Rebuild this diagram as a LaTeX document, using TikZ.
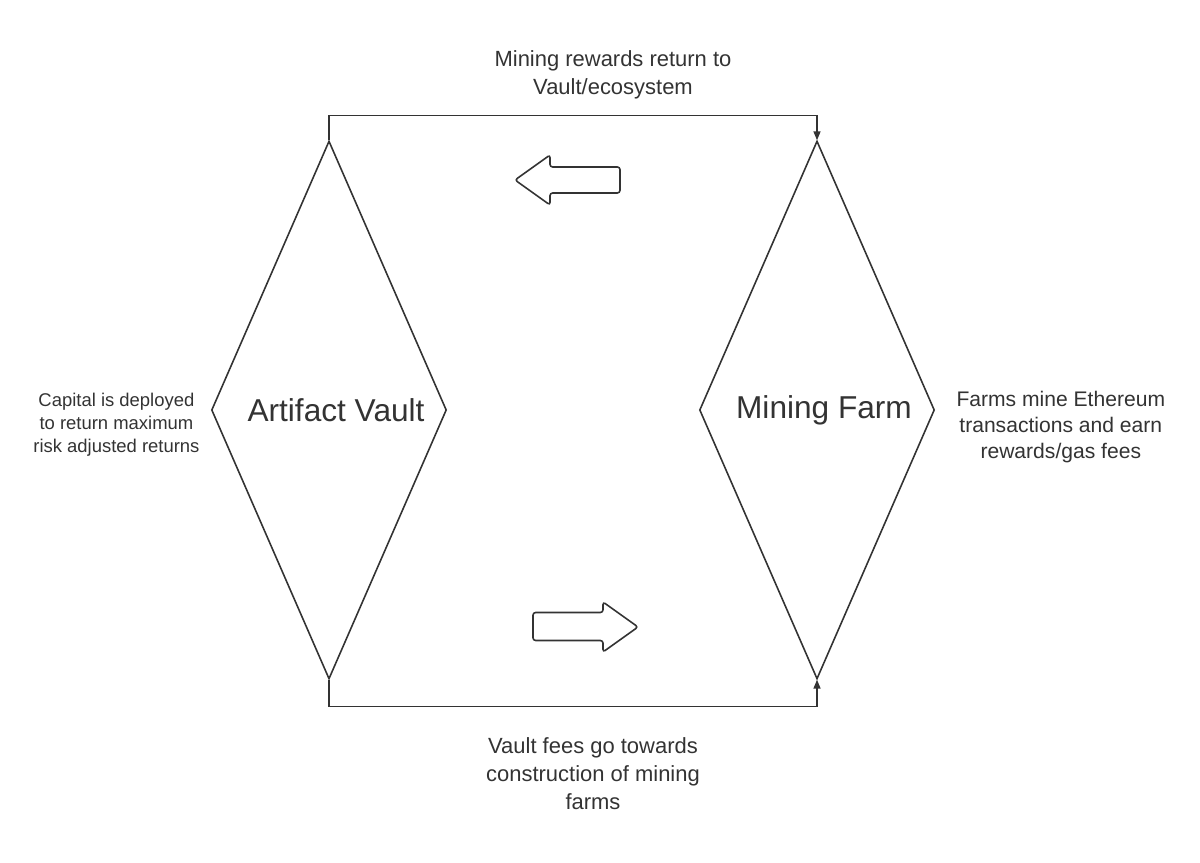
\documentclass[tikz,border=0pt]{standalone}
\usepackage{fontspec}
\setmainfont{Liberation Sans}
\usetikzlibrary{shapes.geometric, arrows.meta, positioning}
\definecolor{ink}{HTML}{333333}
\tikzset{
  hub/.style={diamond, draw=ink, line width=0.9pt, minimum width=4.7cm, minimum height=10.76cm, inner sep=0pt, text=ink, font=\fontsize{18}{22}\selectfont},
  note/.style={text=ink, align=center, font=\fontsize{12.5}{16}\selectfont},
  side/.style={text=ink, align=center, font=\fontsize{10.5}{13}\selectfont},
  link/.style={draw=ink, line width=0.7pt, -{Triangle[length=5pt,width=4pt]}},
  bigarrow/.style={draw=ink, line width=0.9pt, rounded corners=1.5pt}
}
\begin{document}
\begin{tikzpicture}
  \useasboundingbox (0,0) rectangle (24,17.24);
  \node (vault) [hub] at (6.58,9.04) {\hspace{0.28cm}Artifact Vault};
  \node (farm) [hub] at (16.34,9.04) {\hspace{0.28cm}Mining Farm};
  \node (topnote) [note] at (12.26,15.74) {Mining rewards return to\\Vault/ecosystem};
  \node (botnote) [note] at (11.86,1.76) {Vault fees go towards\\construction of mining\\farms};
  \node (vaultnote) [side, left=0.1cm of vault.west, yshift=-0.3cm] {Capital is deployed\\to return maximum\\risk adjusted returns};
  \node (farmnote) [side, font=\fontsize{12}{15}\selectfont, right=0.3cm of farm.east, yshift=-0.34cm] {Farms mine Ethereum\\transactions and earn\\rewards/gas fees};
  \draw [link] (vault.north) -- ++(0,0.5) -| (farm.north);
  \draw [link] (vault.south) -- ++(0,-0.54) -| (farm.south);
  % block arrows
  \draw [bigarrow] (12.4,13.9) -- (12.4,13.38) -- (11.0,13.38) -- (11.0,13.14) -- (10.3,13.64)
    -- (11.0,14.14) -- (11.0,13.9) -- cycle;
  \draw [bigarrow] (10.66,4.99) -- (10.66,4.43) -- (12.06,4.43) -- (12.06,4.2) -- (12.76,4.7)
    -- (12.06,5.2) -- (12.06,4.99) -- cycle;
\end{tikzpicture}
\end{document}
